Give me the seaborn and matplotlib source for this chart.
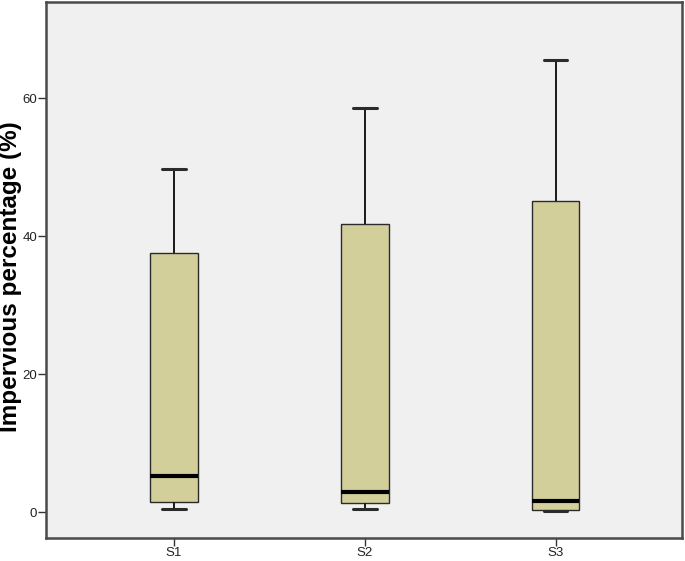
import numpy as np
import pandas as pd
import matplotlib
matplotlib.use("Agg")
import matplotlib.pyplot as plt
import seaborn as sns

# five-number summaries: min, Q1, median, Q3, max
sites = ["S1", "S2", "S3"]
s1_vals = [0.5, 1.45, 5.2, 37.6, 49.8]
s2_vals = [0.45, 1.3, 3.0, 41.8, 58.6]
s3_vals = [0.2, 0.3, 1.6, 45.1, 65.6]
y_ticks = [0, 20, 40, 60]


def build_frame():
    """Long-form frame; with 5 points per group the quartiles land on the values."""
    rows = []
    for site, vals in zip(sites, [s1_vals, s2_vals, s3_vals]):
        for v in vals:
            rows.append({"site": site, "impervious": v})
    return pd.DataFrame(rows)


def main():
    df = build_frame()

    sns.set_style("white")
    plt.rcParams["font.family"] = ["Liberation Sans", "DejaVu Sans"]

    fig = plt.figure(figsize=(6.85, 5.61), dpi=100)
    ax = fig.add_axes([46 / 685, 1 - 538 / 561, 636 / 685, 536 / 561])
    ax.set_facecolor("#f0f0f0")

    sns.boxplot(
        data=df, x="site", y="impervious", ax=ax,
        order=sites, whis=(0, 100), width=0.25,
        color="#d3cf9b", linecolor="#2b2b2b", saturation=1,
        boxprops={"linewidth": 1.0},
        whiskerprops={"linewidth": 1.4, "color": "#1a1a1a"},
        capprops={"linewidth": 2.2, "color": "#2b2b2b"},
        medianprops={"linewidth": 3.0, "color": "#000000"},
    )

    ax.set_xlim(-0.671, 2.663)
    ax.set_ylim(-3.72, 73.96)
    ax.set_yticks(y_ticks)
    ax.set_yticklabels([str(t) for t in y_ticks])

    ax.set_xlabel("")
    ax.set_ylabel("Impervious percentage (%)", fontsize=17.5, fontweight="bold",
                  color="#000000")
    # label sits close to the left edge of the figure, as in the original
    ax.yaxis.set_label_coords(-0.037, 0.488)

    ax.tick_params(axis="both", which="both", direction="out", length=5.5, width=1,
                   color="#333333", labelsize=9.5, labelcolor="#222222",
                   left=True, bottom=True, pad=1)

    for side in ["left", "right", "top", "bottom"]:
        ax.spines[side].set_visible(True)
        ax.spines[side].set_color("#4a4a4a")
        ax.spines[side].set_linewidth(1.8)

    fig.savefig("out.png", dpi=100, facecolor="white")


if __name__ == "__main__":
    main()
